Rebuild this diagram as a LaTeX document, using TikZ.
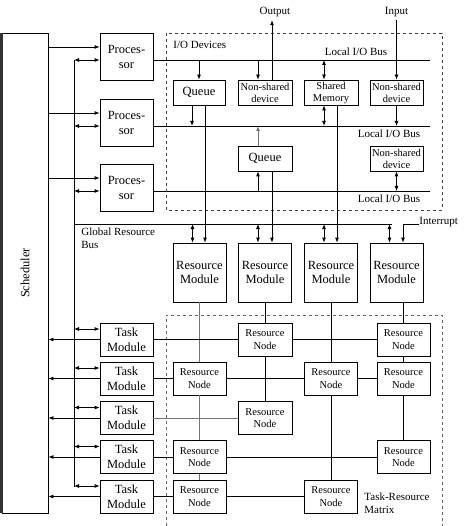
\documentclass[tikz,border=0pt]{standalone}
\usepackage{fontspec}
\setmainfont{Liberation Serif}
\usetikzlibrary{arrows.meta,calc}

\begin{document}
\begin{tikzpicture}[x=1pt,y=-1pt,line width=0.8pt,
    >={Latex[length=5pt,width=4pt]},
    unit/.style={draw,inner sep=0pt,align=center,minimum width=53pt,font=\fontsize{12.5}{15}\selectfont},
    dev/.style={draw,inner sep=0pt,align=center,minimum width=54pt,minimum height=25pt,font=\fontsize{10.5}{12}\selectfont},
    rnode/.style={draw,inner sep=0pt,align=center,minimum width=54pt,minimum height=33pt,font=\fontsize{10.5}{12.5}\selectfont},
    lbl/.style={inner sep=0pt,font=\fontsize{11}{13}\selectfont},
    faint/.style={black!55}]
    \useasboundingbox (0,0) rectangle (474,526);

    % scheduler
    \node[draw,inner sep=0pt,minimum width=46pt,minimum height=480pt,font=\fontsize{12.5}{14}\selectfont] (sched) at (25,273) {\rotatebox{90}{Scheduler}};
    \draw[line width=3pt,black!80] (sched.north west) -- (sched.south west);

    % global resource bus
    \coordinate (gtop) at (74,60);
    \coordinate (gbot) at (74,487);
    \coordinate (gbus) at (392,224);
    \draw (gtop) -- (gbot);
    \draw (gtop |- gbus) -- (gbus);
    \node[lbl,anchor=north west,align=left] (gblbl) at (81,227) {Global Resource\\Bus};

    % processors and local buses
    \coordinate (bus1) at (430,60);
    \coordinate (bus2) at (430,126);
    \coordinate (bus3) at (430,191);
    \foreach \i/\y in {1/56.5,2/122.5,3/188} {
      \node[unit,minimum height=47pt] (p\i) at (126.5,\y) {Proces-\\sor};
      \draw (p\i.east |- bus\i) -- (bus\i);
      \draw[<->] (gtop |- bus\i) -- (p\i.west |- bus\i);
      \coordinate (s\i) at ($(p\i.west |- bus\i)+(0,-13)$);
      \draw[->] (sched.east |- s\i) -- (s\i);
    }

    % I/O devices
    \draw[dashed,black!75] (166,33) rectangle (442,210);
    \node[lbl,anchor=west] (iolbl) at (173,45) {I/O Devices};
    \node[lbl] (bl1) at (356,52) {Local I/O Bus};
    \node[lbl] (bl2) at (389,134) {Local I/O Bus};
    \node[lbl] (bl3) at (389,199) {Local I/O Bus};

    \node[unit,minimum width=52pt,minimum height=25pt] (q1) at (199,92.5) {Queue};
    \node[dev] (n1) at (265,92.5) {Non-shared\\device};
    \node[dev] (sm) at (331,92.5) {Shared\\Memory};
    \node[dev,minimum width=53pt] (n2) at (396.5,92.5) {Non-shared\\device};
    \node[unit,minimum width=54pt,minimum height=25pt] (q2) at (265,158.5) {Queue};
    \node[dev,minimum width=53pt] (n3) at (396.5,158.5) {Non-shared\\device};

    \node[lbl] (outl) at (275,12) {Output};
    \node[lbl] (inl) at (396.5,12) {Input};

    \draw[->] (q1.north |- bus1) -- (q1.north);
    \coordinate (q1l) at ($(q1.south)+(-7,0)$);
    \draw[->] (q1l) -- (q1l |- bus2);
    \coordinate (n1l) at ($(n1.north)+(-7,0)$);
    \draw[->] (n1l |- bus1) -- (n1l);
    \coordinate (n1r) at ($(n1.north)+(7,0)$);
    \draw[->,shorten >=3pt] (n1r) -- (n1r |- outl.south);
    \draw[->,shorten <=3pt] (inl.south) -- (n2.north);
    \draw[->] (n2.south) -- (n2.south |- bus2);
    \coordinate (smt) at ($(sm.north)+(-7,0)$);
    \draw[<->] (smt |- bus1) -- (smt);
    \coordinate (smb) at ($(sm.south)+(-7,0)$);
    \draw[<->] (smb) -- (smb |- bus2);
    \coordinate (q2t) at ($(q2.north)+(-7,0)$);
    \draw[->,faint] (q2t) -- (q2t |- bus2);
    \coordinate (q2b) at ($(q2.south)+(-7,0)$);
    \draw[->] (q2b |- bus3) -- (q2b);
    \draw[<->] (n3.south) -- (n3.south |- bus3);

    % resource modules
    \foreach \i/\x in {1/199.5,2/265,3/331,4/396.5} {
      \node[unit,minimum height=59pt,font=\fontsize{12.5}{14}\selectfont] (rm\i) at (\x,272.5) {Resource\\Module};
      \coordinate (a\i) at ($(rm\i.north)+(-7,0)$);
      \draw[<->] (a\i |- gbus) -- (a\i);
    }
    \coordinate (d1) at ($(q1.south)+(6,0)$);
    \draw[->] (d1) -- (d1 |- rm1.north);
    \coordinate (d2) at ($(q2.south)+(7,0)$);
    \draw[->] (d2) -- (d2 |- rm2.north);
    \coordinate (d3) at ($(sm.south)+(6,0)$);
    \draw[->] (d3) -- (d3 |- rm3.north);
    \node[lbl,anchor=west] (intr) at (419,222) {Interrupt};
    \coordinate (d4) at ($(rm4.north)+(6.5,0)$);
    \draw[->] (intr.west |- gbus) -| (d4);

    % task modules
    \foreach \i/\y in {1/339.5,2/378.5,3/418,4/457,5/496.5} {
      \node[unit,minimum height=33pt] (t\i) at (126.5,\y) {Task\\Module};
      \draw[->] (t\i.west) -- (t\i.west -| sched.east);
      \coordinate (tb\i) at ($(t\i.west)+(0,-10.5)$);
      \draw[<->] (tb\i -| gtop) -- (tb\i);
    }

    % task-resource matrix
    \draw[dashed,black!60] (166,526) -- (166,315) -- (442,315) -- (442,526);
    \node[lbl,anchor=north west,align=left] (mlbl) at (364,492) {Task-Resource\\Matrix};

    \node[rnode] (rn12) at (265,339.5) {Resource\\Node};
    \node[rnode,minimum width=53pt] (rn14) at (403.5,339.5) {Resource\\Node};
    \node[rnode,minimum width=53pt] (rn21) at (199.5,378.5) {Resource\\Node};
    \node[rnode,minimum width=53pt] (rn23) at (331,378.5) {Resource\\Node};
    \node[rnode,minimum width=53pt] (rn24) at (403.5,378.5) {Resource\\Node};
    \node[rnode] (rn32) at (265,418) {Resource\\Node};
    \node[rnode,minimum width=53pt] (rn41) at (199.5,457) {Resource\\Node};
    \node[rnode,minimum width=53pt] (rn44) at (403.5,457) {Resource\\Node};
    \node[rnode,minimum width=53pt] (rn51) at (199.5,496.5) {Resource\\Node};
    \node[rnode,minimum width=53pt] (rn53) at (331,496.5) {Resource\\Node};

    % columns
    \draw[faint] (rm1.south) -- (rn21.north);
    \draw[faint] (rn21.south) -- (rn41.north);
    \draw[faint] (rn41.south) -- (rn51.north);
    \draw (rm2.south) -- (rn12.north);
    \draw (rn12.south) -- (rn32.north);
    \draw (rm3.south) -- (rn23.north);
    \draw (rn23.south) -- (rn53.north);
    \draw (rn14.north |- rm4.south) -- (rn14.north);
    \draw (rn14.south) -- (rn24.north);
    \draw (rn24.south) -- (rn44.north);

    % rows
    \draw (t1.east) -- (rn12.west);
    \draw (rn12.east) -- (rn14.west);
    \draw (t2.east) -- (rn21.west);
    \draw (rn21.east) -- (rn23.west);
    \draw (rn23.east) -- (rn24.west);
    \draw[faint] (t3.east) -- (rn32.west);
    \draw (t4.east) -- (rn41.west);
    \draw (rn41.east) -- (rn44.west);
    \draw (t5.east) -- (rn51.west);
    \draw (rn51.east) -- (rn53.west);
  \end{tikzpicture}
\end{document}
